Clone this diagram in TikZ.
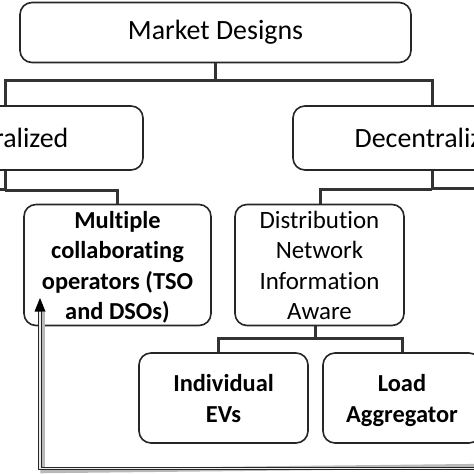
\documentclass[tikz,border=0pt]{standalone}
\usepackage{fontspec}
\setmainfont{Carlito}[Ligatures={NoCommon}]
\usetikzlibrary{arrows.meta}
\newcommand\mystrut{\rule[-5.75bp]{0pt}{29.5bp}}
\tikzset{
  box/.style={draw=black!85, line width=1.6bp, rounded corners=12bp, align=center, inner sep=0pt},
  conn/.style={draw=black!80, line width=3bp},
  bigtxt/.style={font=\fontsize{28}{32}\selectfont},
  midtxt/.style={font=\fontsize{25}{29.5}\selectfont},
  midbold/.style={font=\fontsize{24.5}{29.5}\selectfont\bfseries},
}
\begin{document}
\begin{tikzpicture}[x=1bp,y=-1bp]
\useasboundingbox (0,0) rectangle (474,474);
\clip (0,0) rectangle (474,474);
\fill[white] (0,0) rectangle (474,474);
% boxes
\node[box,bigtxt,minimum width=391bp,minimum height=60bp] (md) at (215.5,32.5) {Market Designs};
\node[box,bigtxt,minimum width=276bp,minimum height=64bp] (cen) at (5,138) {Centralized};
\node[box,bigtxt,minimum width=278bp,minimum height=64bp] (dec) at (432,138) {Decentralized};
\node[box,midbold,minimum width=187bp,minimum height=116bp] (mul) at (117.5,265) {\mystrut Multiple\\\mystrut collaborating\\\mystrut operators (TSO\\\mystrut and DSOs)};
\node[box,midtxt,minimum width=169bp,minimum height=116bp] (dist) at (319.5,265) {\mystrut Distribution\\\mystrut Network\\\mystrut Information\\\mystrut Aware};
\node[box,midbold,minimum width=169bp,minimum height=90bp] (ind) at (223.5,398) {\mystrut Individual\\\mystrut EVs};
\node[box,midbold,minimum width=158bp,minimum height=90bp] (load) at (402,398) {\mystrut Load\\\mystrut Aggregator};
% connectors
\coordinate (leftend) at (-20,190);
\coordinate (rightend) at (490,189);
\coordinate (arrend) at (490,468.5);
\draw[conn] (md.south) -- ++(0,17) -| (cen.north);
\draw[conn] (md.south) ++(0,17) -| (dec.north);
\draw[conn] (cen.south) |- (leftend);
\draw[conn] (cen.south) ++(0,20) -| (mul.north);
\draw[conn] (dec.south) |- (rightend);
\draw[conn] (dec.south) ++(0,19) -| ([xshift=0.5bp]dist.north);
\draw[conn] ([xshift=-4.5bp]dist.south) -- ++(0,12) -| ([xshift=-5.5bp]ind.north);
\draw[conn] ([xshift=-4.5bp]dist.south) ++(0,12) -| (load.north);
% feedback arrow
\coordinate (arrtip) at (40,311);
\draw[gray!55, line width=4.5bp] ([yshift=2.5bp]arrend) -- (42.5,471) -- (42.5,312);
\draw[black!85, line width=1bp, double=white!85!gray, double distance=1.6bp] (arrend) -- (40,468.5) -- (arrtip);
\fill[black] (40,298) -- (45.5,311.5) -- (34.5,311.5) -- cycle;
\end{tikzpicture}
\end{document}
